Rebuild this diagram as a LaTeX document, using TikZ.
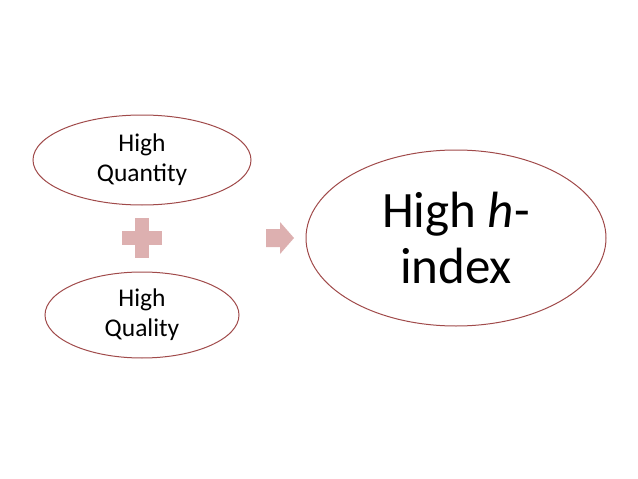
\documentclass[tikz,border=0pt]{standalone}
\usepackage{fontspec}
\setmainfont{Carlito}
\usetikzlibrary{shapes.geometric}
\definecolor{edge}{HTML}{A04A4A}
\definecolor{pinkish}{HTML}{DDB0B0}
\tikzset{oval/.style={ellipse,draw=edge,line width=1pt,inner sep=0pt,align=center}}
\begin{document}
\begin{tikzpicture}[x=1pt,y=-1pt]
\useasboundingbox (0,0) rectangle (638,479);
\node[oval,minimum width=218,minimum height=90,font=\fontsize{25.5}{30}\selectfont] (qty) at (142,160) {High\\Quantity};
\node[oval,minimum width=194,minimum height=86,font=\fontsize{25.5}{30}\selectfont] (qly) at (142,315) {High\\Quality};
\node[oval,minimum width=300,minimum height=176,font=\fontsize{51}{56}\selectfont] (h) at (456,238) {High \textit{h}-\\index};
\fill[pinkish] (135,218) rectangle (149,258);
\fill[pinkish] (122,231) rectangle (162,245);
\coordinate (arr) at (280,238);
\fill[pinkish] (266,229) -- (280,229) -- (280,222) -- (294,238) -- (280,254) -- (280,247) -- (266,247) -- cycle;
\end{tikzpicture}
\end{document}
